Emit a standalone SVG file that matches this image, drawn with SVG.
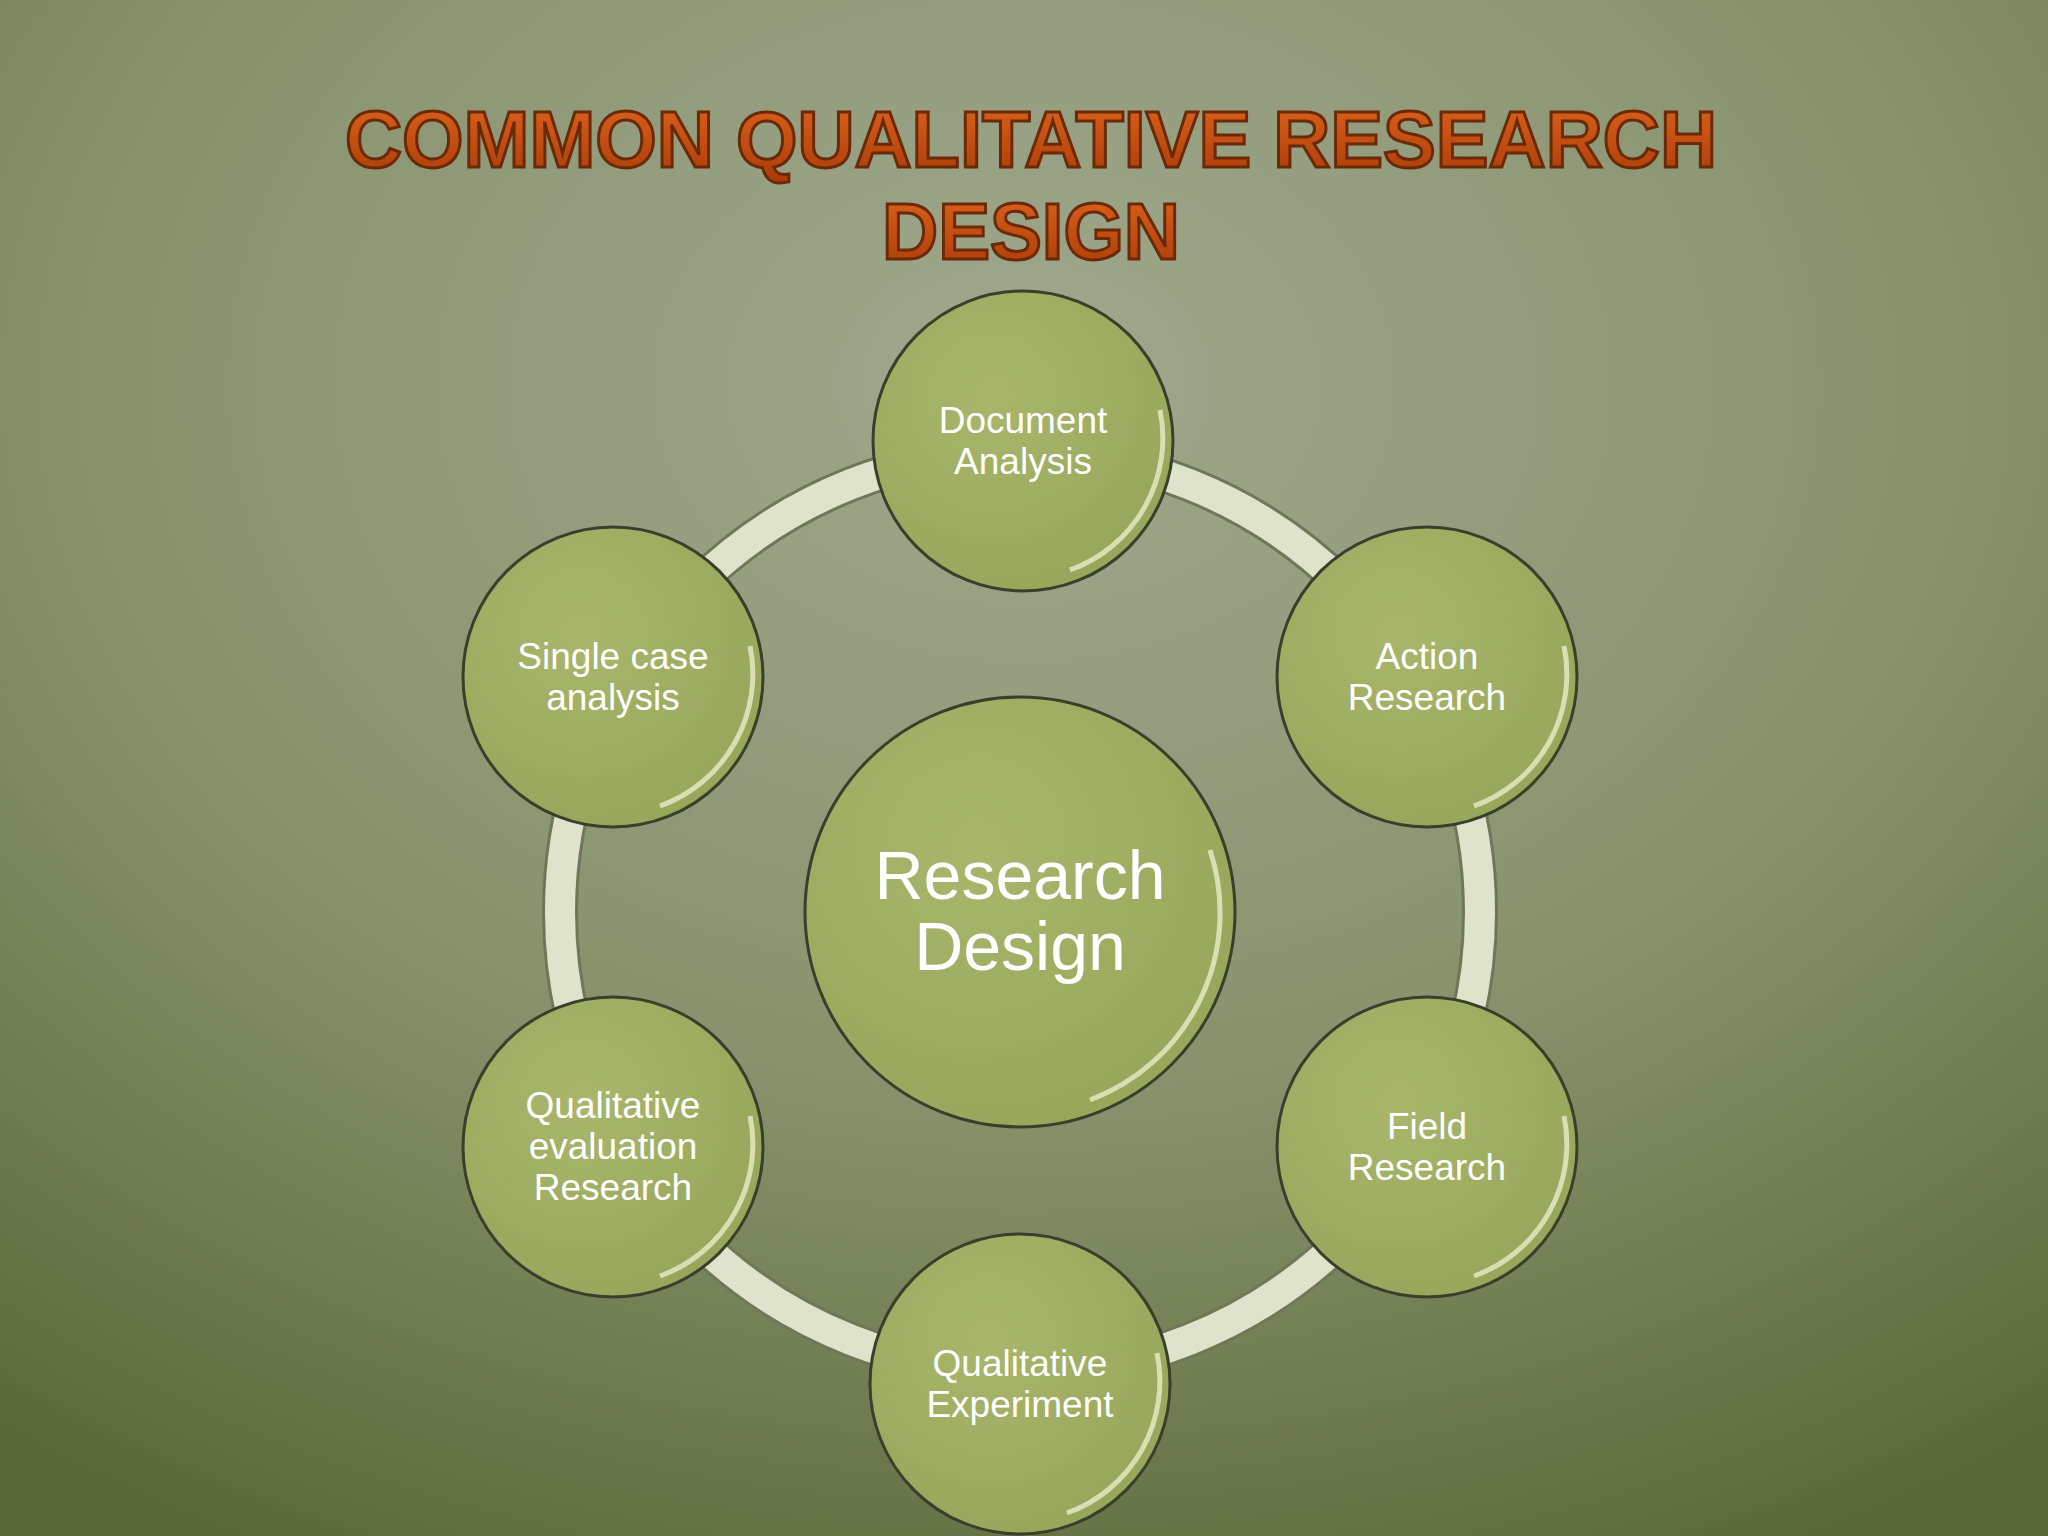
<svg xmlns="http://www.w3.org/2000/svg" width="2048" height="1536" viewBox="0 0 2048 1536">
<defs>
<radialGradient id="bg" cx="0.5" cy="0.25" r="0.85">
<stop offset="0" stop-color="#a0a88e"/><stop offset="0.55" stop-color="#87926c"/><stop offset="1" stop-color="#5a6838"/>
</radialGradient>
<linearGradient id="tg" x1="0" y1="0" x2="0" y2="1">
<stop offset="0" stop-color="#e0641c"/><stop offset="1" stop-color="#a83a08"/>
</linearGradient>
<radialGradient id="ng" cx="0.4" cy="0.35" r="0.7">
<stop offset="0" stop-color="#a9b66c"/><stop offset="1" stop-color="#97a65a"/>
</radialGradient>
</defs>
<style>
.node{fill:url(#ng);stroke:#3a3f2c;stroke-width:3}
.rim{fill:none;stroke:#e8ecc8;stroke-width:5;opacity:0.8}
.lbl{font-family:"Liberation Sans",Arial,sans-serif;font-size:37px;fill:#fff;text-anchor:middle}
.big{font-family:"Liberation Sans",Arial,sans-serif;font-size:68px;fill:#fff;text-anchor:middle}
.title{font-family:"Liberation Sans",Arial,sans-serif;font-weight:bold;font-size:80px;fill:url(#tg);stroke:#6a2a08;stroke-width:3;text-anchor:middle}
</style>
<rect width="2048" height="1536" fill="url(#bg)"/>
<text class="title" x="1031" y="167" textLength="1372" lengthAdjust="spacingAndGlyphs">COMMON QUALITATIVE RESEARCH</text>
<text class="title" x="1031" y="259" textLength="298" lengthAdjust="spacingAndGlyphs">DESIGN</text>
<g id="connectors">
<circle cx="1020" cy="912" r="460" fill="none" stroke="#6f7758" stroke-width="36"/>
<circle cx="1020" cy="912" r="460" fill="none" stroke="#dfe3cc" stroke-width="30"/>
</g>
<g id="center"><circle class="node" cx="1020" cy="912" r="215"/><path class="rim" d="M1210 850 A200 200 0 0 1 1090 1100"/>
<text class="big" x="1020" y="899">Research</text><text class="big" x="1020" y="970">Design</text></g>
<g id="n1"><circle class="node" cx="1023" cy="441" r="150"/><path class="rim" d="M1160 410 A140 140 0 0 1 1070 570"/>
<text class="lbl" x="1023" y="433">Document</text><text class="lbl" x="1023" y="474">Analysis</text></g>
<g id="n2"><circle class="node" cx="1427" cy="677" r="150"/><path class="rim" d="M1564 646 A140 140 0 0 1 1474 806"/>
<text class="lbl" x="1427" y="669">Action</text><text class="lbl" x="1427" y="710">Research</text></g>
<g id="n3"><circle class="node" cx="1427" cy="1147" r="150"/><path class="rim" d="M1564 1116 A140 140 0 0 1 1474 1276"/>
<text class="lbl" x="1427" y="1139">Field</text><text class="lbl" x="1427" y="1180">Research</text></g>
<g id="n4"><circle class="node" cx="1020" cy="1384" r="150"/><path class="rim" d="M1157 1353 A140 140 0 0 1 1067 1513"/>
<text class="lbl" x="1020" y="1376">Qualitative</text><text class="lbl" x="1020" y="1417">Experiment</text></g>
<g id="n5"><circle class="node" cx="613" cy="1147" r="150"/><path class="rim" d="M750 1116 A140 140 0 0 1 660 1276"/>
<text class="lbl" x="613" y="1118">Qualitative</text><text class="lbl" x="613" y="1159">evaluation</text><text class="lbl" x="613" y="1200">Research</text></g>
<g id="n6"><circle class="node" cx="613" cy="677" r="150"/><path class="rim" d="M750 646 A140 140 0 0 1 660 806"/>
<text class="lbl" x="613" y="669">Single case</text><text class="lbl" x="613" y="710">analysis</text></g>
</svg>
